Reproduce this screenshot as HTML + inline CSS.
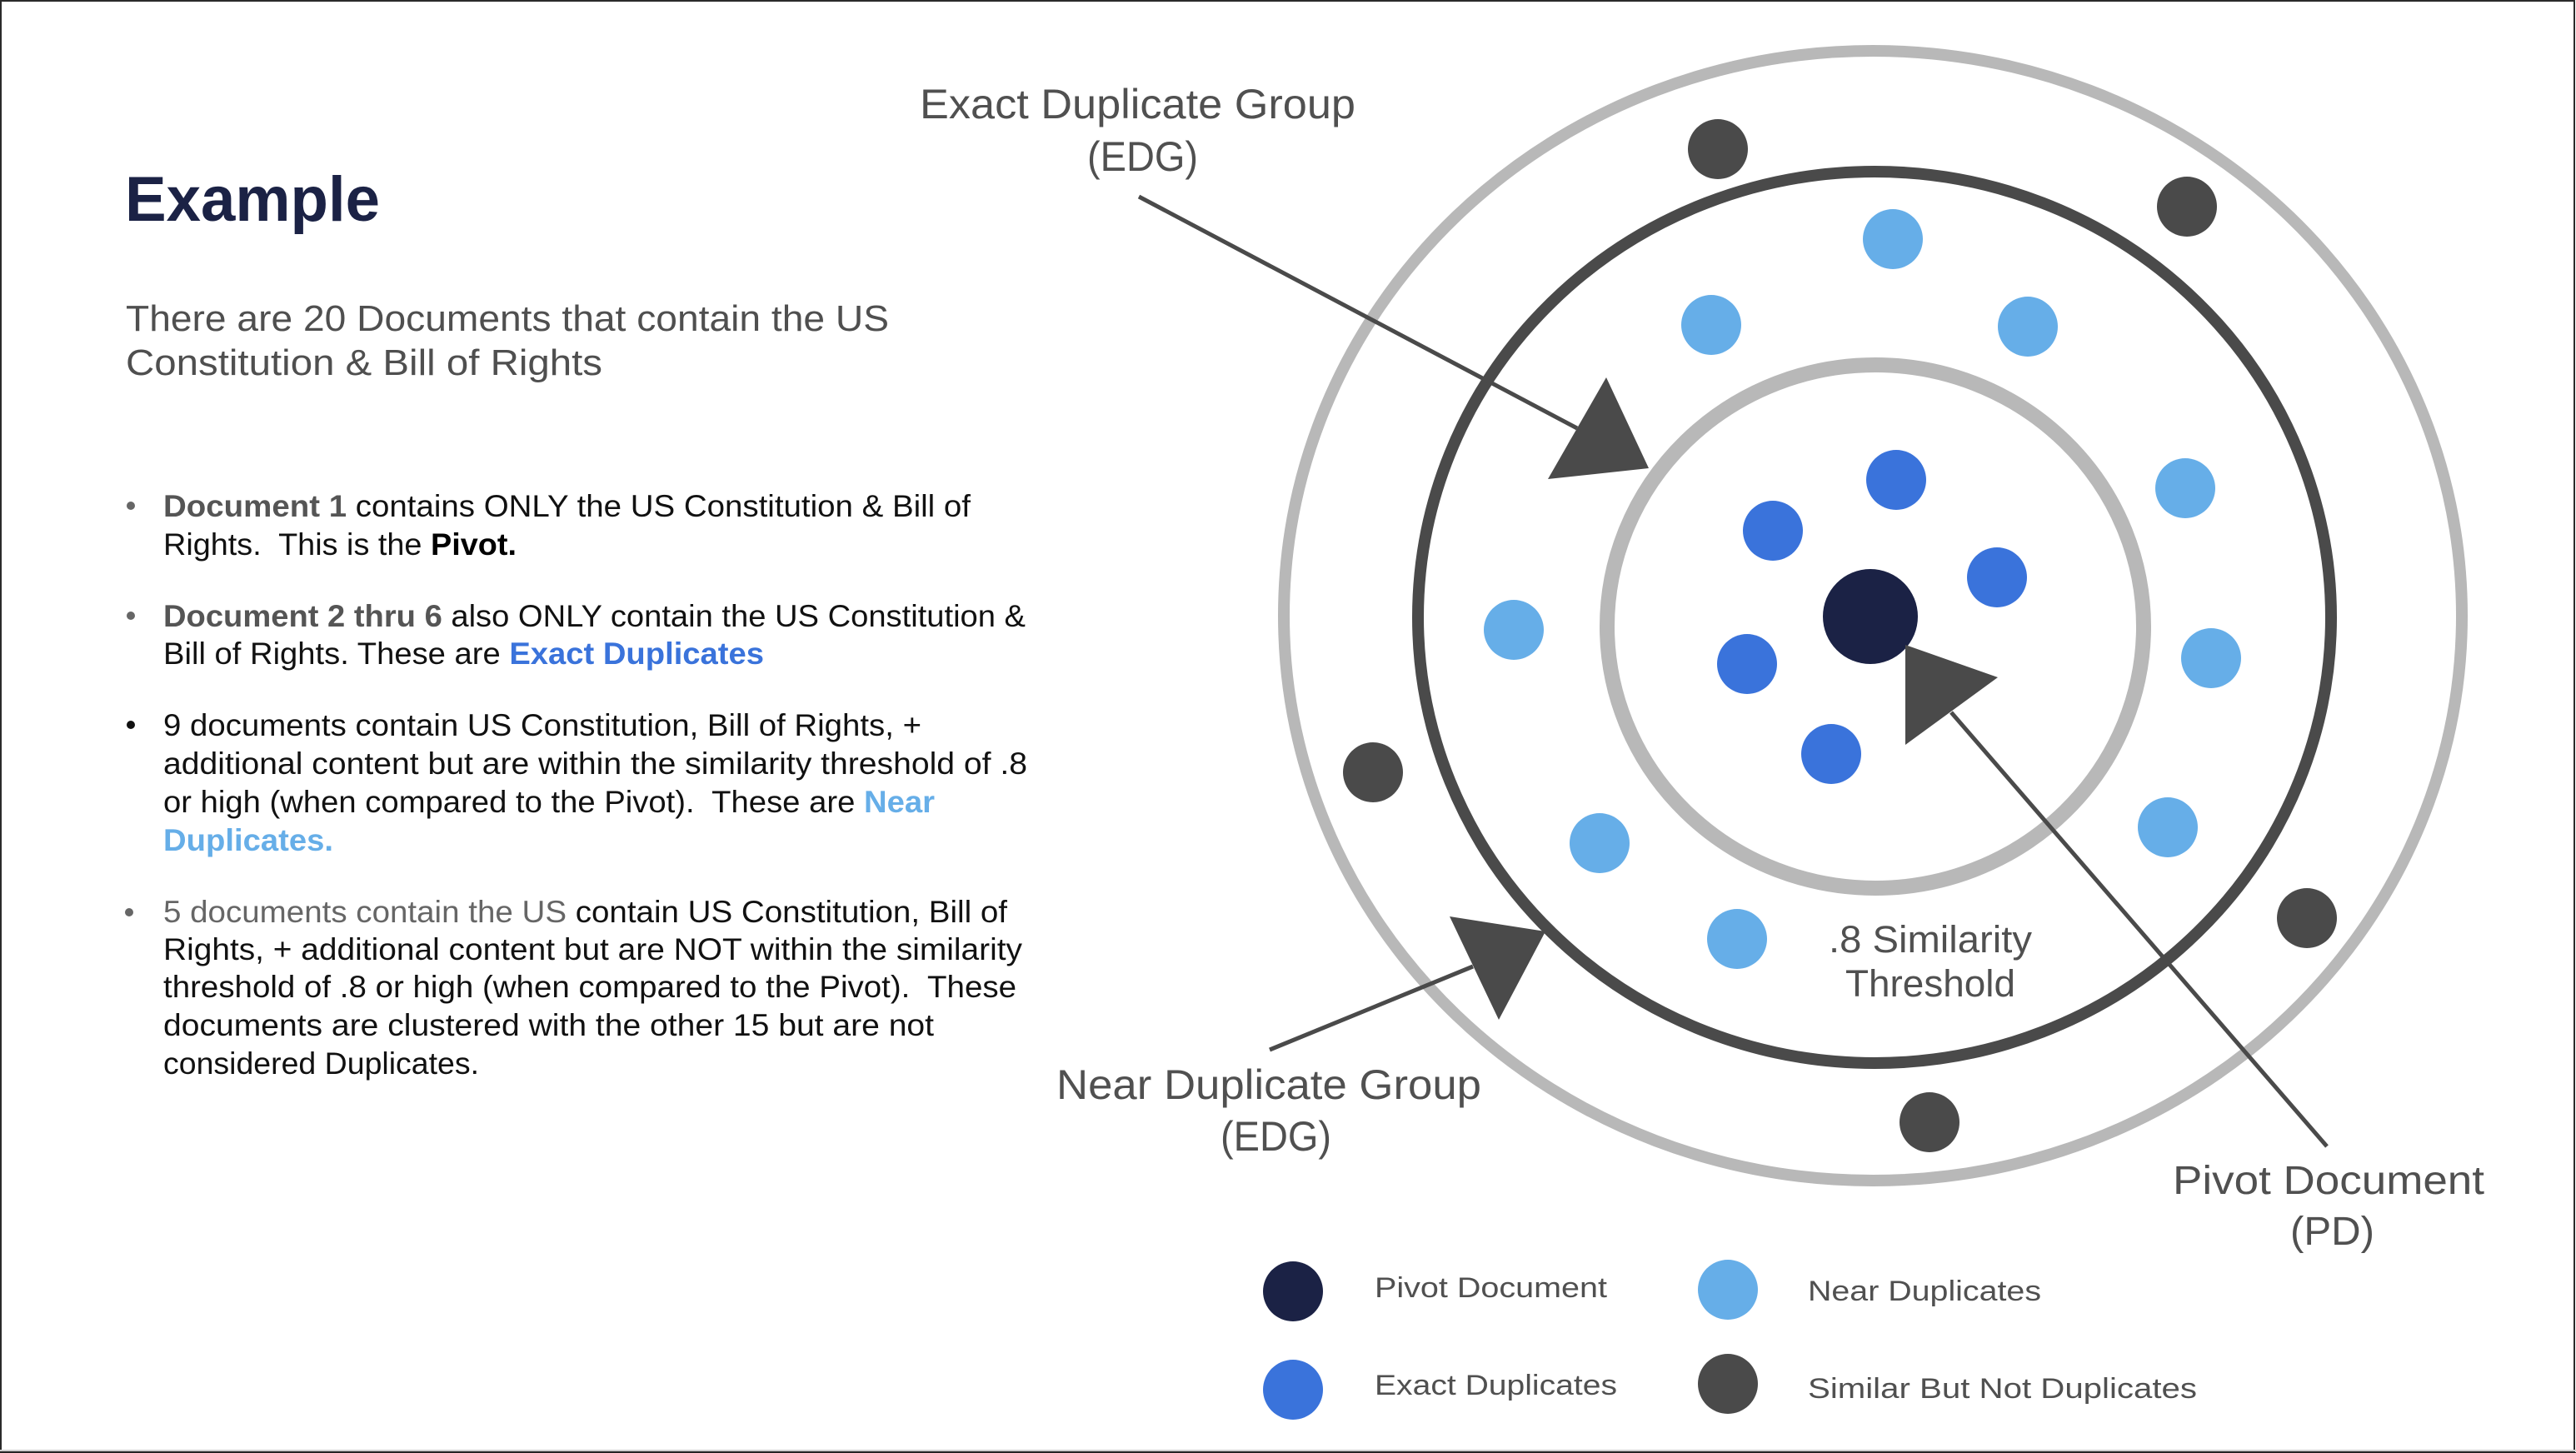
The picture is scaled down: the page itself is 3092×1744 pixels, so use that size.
<!DOCTYPE html>
<html>
<head>
<meta charset="utf-8">
<style>
  html, body { margin:0; padding:0; background:#fff; }
  body { width:3092px; height:1744px; overflow:hidden; }
  svg { display:block; }
  text { font-family: "Liberation Sans", "DejaVu Sans", sans-serif; white-space: pre; }
</style>
</head>
<body>
<svg width="3092" height="1744" viewBox="0 0 3092 1744" xmlns="http://www.w3.org/2000/svg">
  <rect x="0" y="0" width="3092" height="1744" fill="#ffffff"/>
  <!-- border -->
  <rect x="1" y="1" width="3089" height="1741" fill="none" stroke="#2a2a2a" stroke-width="2"/>
  <line x1="0" y1="1741" x2="3092" y2="1741" stroke="#cfcfcf" stroke-width="2"/>
  <line x1="0" y1="1743.5" x2="3092" y2="1743.5" stroke="#222" stroke-width="1"/>

  <!-- Left panel -->
  <text x="150" y="265" font-size="76" font-weight="bold" fill="#1b2245" textLength="306" lengthAdjust="spacingAndGlyphs">Example</text>
  <text x="151" y="397" font-size="44" fill="#4f4f4f" textLength="916" lengthAdjust="spacingAndGlyphs">There are 20 Documents that contain the US</text>
  <text x="151" y="450" font-size="44" fill="#4f4f4f" textLength="572" lengthAdjust="spacingAndGlyphs">Constitution &amp; Bill of Rights</text>

  <!-- Bullet 1 -->
  <circle cx="157" cy="607" r="5" fill="#666"/>
  <text x="196" y="620" font-size="37" fill="#111" textLength="969" lengthAdjust="spacingAndGlyphs"><tspan font-weight="bold" fill="#555">Document 1</tspan> contains ONLY the US Constitution &amp; Bill of</text>
  <text x="196" y="666" font-size="37" fill="#111" textLength="424" lengthAdjust="spacingAndGlyphs">Rights.  This is the <tspan font-weight="bold" fill="#000">Pivot.</tspan></text>

  <!-- Bullet 2 -->
  <circle cx="157" cy="739" r="5" fill="#666"/>
  <text x="196" y="752" font-size="37" fill="#111" textLength="1035" lengthAdjust="spacingAndGlyphs"><tspan font-weight="bold" fill="#555">Document 2 thru 6</tspan> also ONLY contain the US Constitution &amp;</text>
  <text x="196" y="797" font-size="37" fill="#111" textLength="721" lengthAdjust="spacingAndGlyphs">Bill of Rights. These are <tspan font-weight="bold" fill="#3a73db">Exact Duplicates</tspan></text>

  <!-- Bullet 3 -->
  <circle cx="157" cy="870" r="5" fill="#111"/>
  <text x="196" y="883" font-size="37" fill="#111" textLength="910" lengthAdjust="spacingAndGlyphs">9 documents contain US Constitution, Bill of Rights, +</text>
  <text x="196" y="929" font-size="37" fill="#111" textLength="1037" lengthAdjust="spacingAndGlyphs">additional content but are within the similarity threshold of .8</text>
  <text x="196" y="975" font-size="37" fill="#111" textLength="926" lengthAdjust="spacingAndGlyphs">or high (when compared to the Pivot).  These are <tspan font-weight="bold" fill="#66aee8">Near</tspan></text>
  <text x="196" y="1021" font-size="37" font-weight="bold" fill="#66aee8" textLength="204" lengthAdjust="spacingAndGlyphs">Duplicates.</text>

  <!-- Bullet 4 -->
  <circle cx="155" cy="1095" r="5" fill="#666"/>
  <text x="196" y="1107" font-size="37" fill="#111" textLength="1013" lengthAdjust="spacingAndGlyphs"><tspan fill="#666">5 documents contain the US</tspan> contain US Constitution, Bill of</text>
  <text x="196" y="1152" font-size="37" fill="#111" textLength="1031" lengthAdjust="spacingAndGlyphs">Rights, + additional content but are NOT within the similarity</text>
  <text x="196" y="1197" font-size="37" fill="#111" textLength="1024" lengthAdjust="spacingAndGlyphs">threshold of .8 or high (when compared to the Pivot).  These</text>
  <text x="196" y="1243" font-size="37" fill="#111" textLength="925" lengthAdjust="spacingAndGlyphs">documents are clustered with the other 15 but are not</text>
  <text x="196" y="1289" font-size="37" fill="#111" textLength="379" lengthAdjust="spacingAndGlyphs">considered Duplicates.</text>

  <!-- Diagram rings -->
  <ellipse cx="2248" cy="739" rx="707" ry="678" fill="none" stroke="#b8b8b8" stroke-width="14"/>
  <ellipse cx="2250" cy="741" rx="548" ry="535" fill="none" stroke="#4a4a4a" stroke-width="14"/>
  <ellipse cx="2251" cy="752" rx="322" ry="314" fill="none" stroke="#b8b8b8" stroke-width="18"/>

  <!-- Similar but not duplicates (dark gray) -->
  <g fill="#4a4a4a">
    <circle cx="2062" cy="179" r="36"/>
    <circle cx="2625" cy="248" r="36"/>
    <circle cx="1648" cy="927" r="36"/>
    <circle cx="2769" cy="1102" r="36"/>
    <circle cx="2316" cy="1347" r="36"/>
  </g>
  <!-- Near duplicates -->
  <g fill="#66aee8">
    <circle cx="2272" cy="287" r="36"/>
    <circle cx="2054" cy="390" r="36"/>
    <circle cx="2434" cy="392" r="36"/>
    <circle cx="2623" cy="586" r="36"/>
    <circle cx="1817" cy="756" r="36"/>
    <circle cx="2654" cy="790" r="36"/>
    <circle cx="1920" cy="1012" r="36"/>
    <circle cx="2602" cy="993" r="36"/>
    <circle cx="2085" cy="1127" r="36"/>
  </g>
  <!-- Exact duplicates -->
  <g fill="#3a73db">
    <circle cx="2276" cy="576" r="36"/>
    <circle cx="2128" cy="637" r="36"/>
    <circle cx="2397" cy="693" r="36"/>
    <circle cx="2097" cy="797" r="36"/>
    <circle cx="2198" cy="905" r="36"/>
  </g>
  <!-- Pivot -->
  <circle cx="2245" cy="740" r="57" fill="#1b2245"/>

  <!-- Arrows -->
  <g stroke="#4a4a4a" stroke-width="5" fill="none">
    <line x1="1367" y1="236" x2="1893" y2="514"/>
    <line x1="1524" y1="1260" x2="1768" y2="1160"/>
    <line x1="2793" y1="1376" x2="2342" y2="855"/>
  </g>
  <g fill="#4a4a4a">
    <polygon points="1928,453 1979,562 1858,575"/>
    <polygon points="1740,1100 1855,1118 1799,1224"/>
    <polygon points="2287,774 2398,813 2287,894"/>
  </g>

  <!-- Diagram labels -->
  <g fill="#505050">
    <text x="1104" y="142" font-size="50" textLength="523" lengthAdjust="spacingAndGlyphs">Exact Duplicate Group</text>
    <text x="1305" y="205" font-size="50" textLength="133" lengthAdjust="spacingAndGlyphs">(EDG)</text>
    <text x="1268" y="1319" font-size="50" textLength="510" lengthAdjust="spacingAndGlyphs">Near Duplicate Group</text>
    <text x="1465" y="1381" font-size="50" textLength="133" lengthAdjust="spacingAndGlyphs">(EDG)</text>
    <text x="2195" y="1143" font-size="45" textLength="244" lengthAdjust="spacingAndGlyphs">.8 Similarity</text>
    <text x="2215" y="1196" font-size="45" textLength="204" lengthAdjust="spacingAndGlyphs">Threshold</text>
    <text x="2608" y="1433" font-size="48" textLength="374" lengthAdjust="spacingAndGlyphs">Pivot Document</text>
    <text x="2749" y="1494" font-size="48" textLength="101" lengthAdjust="spacingAndGlyphs">(PD)</text>
  </g>

  <!-- Legend -->
  <circle cx="1552" cy="1550" r="36" fill="#1b2245"/>
  <circle cx="1552" cy="1668" r="36" fill="#3a73db"/>
  <circle cx="2074" cy="1548" r="36" fill="#66aee8"/>
  <circle cx="2074" cy="1661" r="36" fill="#4a4a4a"/>
  <g fill="#505050">
    <text x="1650" y="1557" font-size="34" textLength="279" lengthAdjust="spacingAndGlyphs">Pivot Document</text>
    <text x="1650" y="1674" font-size="34" textLength="291" lengthAdjust="spacingAndGlyphs">Exact Duplicates</text>
    <text x="2170" y="1561" font-size="34" textLength="280" lengthAdjust="spacingAndGlyphs">Near Duplicates</text>
    <text x="2170" y="1678" font-size="34" textLength="467" lengthAdjust="spacingAndGlyphs">Similar But Not Duplicates</text>
  </g>
</svg>
</body>
</html>
